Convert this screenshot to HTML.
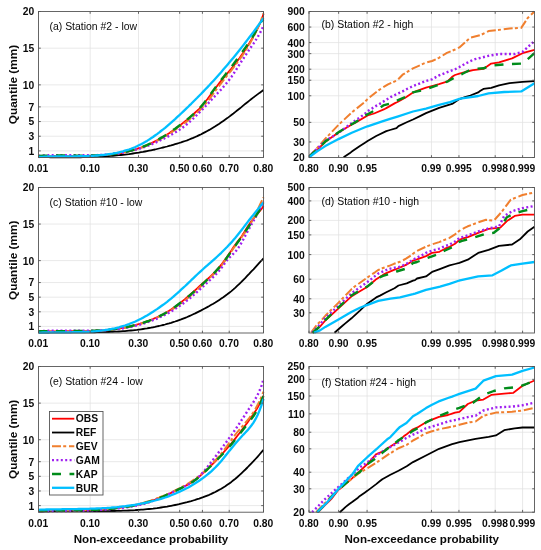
<!DOCTYPE html>
<html><head><meta charset="utf-8"><title>Quantile plots</title>
<style>html,body{margin:0;padding:0;background:#fff}svg{display:block}text{font-family:"Liberation Sans", Arial, sans-serif}</style></head><body>
<svg width="541" height="550" viewBox="0 0 541 550">
<rect width="541" height="550" fill="#fff"/>
<g>
<path d="M90.17 11.50V157.50M138.51 11.50V157.50M179.68 11.50V157.50M202.43 11.50V157.50M229.21 11.50V157.50M38.50 48.18H263.50M38.50 84.87H263.50M38.50 106.88H263.50M38.50 121.55H263.50M38.50 136.22H263.50M38.50 150.90H263.50" stroke="#e1e1e1" stroke-width="0.75" fill="none"/>
<clipPath id="c0"><rect x="38.50" y="10.00" width="226.50" height="149.00"/></clipPath>
<g clip-path="url(#c0)" fill="none" stroke-linejoin="round">
<path d="M38.5 156.8L40.5 156.6L42.5 156.5L44.5 156.4L46.5 156.3L48.5 156.2L50.6 156.1L52.6 156.1L54.6 156.0L56.6 156.0L58.6 156.0L60.6 156.0L62.6 156.0L64.6 156.0L66.6 156.0L68.6 156.0L70.6 156.0L72.7 156.0L74.7 156.0L76.7 156.0L78.7 156.0L80.7 156.0L82.7 156.0L84.7 156.0L86.7 155.9L88.7 155.9L90.7 155.9L92.7 155.8L94.8 155.7L96.8 155.6L98.8 155.5L100.8 155.4L102.8 155.3L104.8 155.1L106.8 154.9L108.8 154.7L110.8 154.5L112.8 154.3L114.8 154.0L116.8 153.7L118.9 153.4L120.9 153.0L122.9 152.6L124.9 152.2L126.9 151.7L128.9 151.2L130.9 150.7L132.9 150.1L134.9 149.5L136.9 148.9L138.9 148.2L141.0 147.5L143.0 146.8L145.0 146.0L147.0 145.1L149.0 144.3L151.0 143.4L153.0 142.4L155.0 141.4L157.0 140.4L159.0 139.3L161.0 138.2L163.1 137.0L165.1 135.8L167.1 134.5L169.1 133.2L171.1 131.8L173.1 130.5L175.1 129.0L177.1 127.5L179.1 126.0L181.1 124.5L183.1 122.9L185.2 121.2L187.2 119.6L189.2 117.9L191.2 116.1L193.2 114.3L195.2 112.5L197.2 110.7L199.2 108.8L201.2 106.7L203.2 104.4L205.2 101.8L207.3 99.2L209.3 96.4L211.3 93.7L213.3 91.0L215.3 88.3L217.3 85.7L219.3 83.1L221.3 80.6L223.3 78.2L225.3 75.8L227.3 73.4L229.3 71.0L231.4 68.6L233.4 66.1L235.4 63.5L237.4 60.9L239.4 58.2L241.4 55.3L243.4 52.4L245.4 49.4L247.4 46.2L249.4 43.0L251.4 39.6L253.5 36.1L255.5 32.5L257.5 28.7L259.5 24.6L261.5 19.9L263.5 14.0" stroke="#ff0000" stroke-width="1.8"/>
<path d="M38.5 157.1L40.5 157.1L42.5 157.1L44.5 157.2L46.5 157.2L48.5 157.2L50.6 157.3L52.6 157.3L54.6 157.3L56.6 157.3L58.6 157.3L60.6 157.4L62.6 157.4L64.6 157.4L66.6 157.4L68.6 157.4L70.6 157.4L72.7 157.4L74.7 157.4L76.7 157.3L78.7 157.3L80.7 157.3L82.7 157.2L84.7 157.2L86.7 157.2L88.7 157.1L90.7 157.0L92.7 157.0L94.8 156.9L96.8 156.8L98.8 156.7L100.8 156.6L102.8 156.5L104.8 156.4L106.8 156.2L108.8 156.1L110.8 155.9L112.8 155.8L114.8 155.6L116.8 155.4L118.9 155.2L120.9 155.0L122.9 154.8L124.9 154.6L126.9 154.3L128.9 154.1L130.9 153.8L132.9 153.5L134.9 153.2L136.9 152.9L138.9 152.6L141.0 152.2L143.0 151.9L145.0 151.5L147.0 151.1L149.0 150.7L151.0 150.3L153.0 149.9L155.0 149.5L157.0 149.0L159.0 148.5L161.0 148.0L163.1 147.5L165.1 147.0L167.1 146.5L169.1 145.9L171.1 145.4L173.1 144.8L175.1 144.2L177.1 143.6L179.1 143.0L181.1 142.4L183.1 141.7L185.2 141.0L187.2 140.3L189.2 139.5L191.2 138.7L193.2 137.9L195.2 137.0L197.2 136.1L199.2 135.1L201.2 134.2L203.2 133.1L205.2 132.1L207.3 131.0L209.3 129.9L211.3 128.7L213.3 127.5L215.3 126.3L217.3 125.0L219.3 123.7L221.3 122.3L223.3 120.9L225.3 119.5L227.3 118.1L229.3 116.6L231.4 115.0L233.4 113.5L235.4 111.9L237.4 110.3L239.4 108.7L241.4 107.1L243.4 105.4L245.4 103.8L247.4 102.2L249.4 100.6L251.4 99.0L253.5 97.4L255.5 95.9L257.5 94.4L259.5 92.9L261.5 91.5L263.5 90.1" stroke="#000000" stroke-width="1.8"/>
<path d="M38.5 156.5L40.5 156.4L42.5 156.3L44.5 156.3L46.5 156.2L48.5 156.1L50.6 156.1L52.6 156.0L54.6 156.0L56.6 156.0L58.6 156.0L60.6 155.9L62.6 155.9L64.6 155.9L66.6 155.9L68.6 155.9L70.6 155.9L72.7 155.9L74.7 155.9L76.7 155.9L78.7 155.9L80.7 155.9L82.7 155.9L84.7 155.9L86.7 155.8L88.7 155.8L90.7 155.7L92.7 155.7L94.8 155.6L96.8 155.5L98.8 155.4L100.8 155.3L102.8 155.1L104.8 155.0L106.8 154.8L108.8 154.6L110.8 154.4L112.8 154.1L114.8 153.9L116.8 153.6L118.9 153.3L120.9 152.9L122.9 152.6L124.9 152.2L126.9 151.8L128.9 151.3L130.9 150.8L132.9 150.3L134.9 149.8L136.9 149.2L138.9 148.6L141.0 147.9L143.0 147.2L145.0 146.4L147.0 145.6L149.0 144.8L151.0 143.9L153.0 143.0L155.0 142.0L157.0 140.9L159.0 139.9L161.0 138.7L163.1 137.6L165.1 136.4L167.1 135.1L169.1 133.9L171.1 132.6L173.1 131.2L175.1 129.9L177.1 128.5L179.1 127.0L181.1 125.6L183.1 124.1L185.2 122.6L187.2 121.1L189.2 119.5L191.2 117.9L193.2 116.3L195.2 114.5L197.2 112.7L199.2 110.8L201.2 108.7L203.2 106.5L205.2 104.1L207.3 101.6L209.3 99.1L211.3 96.4L213.3 93.7L215.3 91.0L217.3 88.3L219.3 85.7L221.3 83.1L223.3 80.5L225.3 77.9L227.3 75.4L229.3 72.8L231.4 70.3L233.4 67.7L235.4 65.0L237.4 62.4L239.4 59.6L241.4 56.8L243.4 53.9L245.4 50.8L247.4 47.7L249.4 44.3L251.4 40.7L253.5 36.9L255.5 32.9L257.5 28.5L259.5 23.9L261.5 18.8L263.5 13.3" stroke="#f07f2e" stroke-width="2.0" stroke-dasharray="9 2.2 3 2.8"/>
<path d="M38.5 155.7L40.5 155.6L42.5 155.5L44.5 155.5L46.5 155.4L48.5 155.3L50.6 155.3L52.6 155.3L54.6 155.2L56.6 155.2L58.6 155.2L60.6 155.2L62.6 155.2L64.6 155.2L66.6 155.2L68.6 155.3L70.6 155.3L72.7 155.3L74.7 155.3L76.7 155.3L78.7 155.3L80.7 155.3L82.7 155.3L84.7 155.3L86.7 155.3L88.7 155.3L90.7 155.3L92.7 155.2L94.8 155.2L96.8 155.1L98.8 155.0L100.8 154.9L102.8 154.8L104.8 154.7L106.8 154.5L108.8 154.4L110.8 154.2L112.8 154.0L114.8 153.7L116.8 153.5L118.9 153.2L120.9 152.9L122.9 152.6L124.9 152.2L126.9 151.8L128.9 151.4L130.9 150.9L132.9 150.5L134.9 149.9L136.9 149.4L138.9 148.8L141.0 148.2L143.0 147.5L145.0 146.9L147.0 146.1L149.0 145.4L151.0 144.6L153.0 143.7L155.0 142.9L157.0 141.9L159.0 141.0L161.0 140.0L163.1 139.0L165.1 138.0L167.1 137.0L169.1 135.9L171.1 134.8L173.1 133.7L175.1 132.6L177.1 131.4L179.1 130.1L181.1 128.7L183.1 127.2L185.2 125.7L187.2 124.0L189.2 122.3L191.2 120.5L193.2 118.6L195.2 116.7L197.2 114.7L199.2 112.7L201.2 110.7L203.2 108.6L205.2 106.5L207.3 104.3L209.3 102.2L211.3 100.0L213.3 97.9L215.3 95.7L217.3 93.5L219.3 91.4L221.3 89.3L223.3 87.0L225.3 84.7L227.3 82.3L229.3 79.7L231.4 76.9L233.4 73.9L235.4 70.9L237.4 67.8L239.4 64.6L241.4 61.5L243.4 58.5L245.4 55.5L247.4 52.5L249.4 49.5L251.4 46.5L253.5 43.6L255.5 40.5L257.5 37.3L259.5 33.9L261.5 30.1L263.5 25.8" stroke="#a020f0" stroke-width="2.4" stroke-dasharray="2 2.4"/>
<path d="M38.5 156.0L40.5 155.9L42.5 155.8L44.5 155.7L46.5 155.6L48.5 155.6L50.6 155.5L52.6 155.5L54.6 155.5L56.6 155.5L58.6 155.4L60.6 155.4L62.6 155.5L64.6 155.5L66.6 155.5L68.6 155.5L70.6 155.5L72.7 155.5L74.7 155.5L76.7 155.6L78.7 155.6L80.7 155.6L82.7 155.6L84.7 155.6L86.7 155.5L88.7 155.5L90.7 155.5L92.7 155.4L94.8 155.4L96.8 155.3L98.8 155.2L100.8 155.1L102.8 155.0L104.8 154.8L106.8 154.6L108.8 154.4L110.8 154.2L112.8 154.0L114.8 153.7L116.8 153.4L118.9 153.1L120.9 152.8L122.9 152.4L124.9 152.0L126.9 151.5L128.9 151.1L130.9 150.6L132.9 150.0L134.9 149.4L136.9 148.8L138.9 148.1L141.0 147.4L143.0 146.7L145.0 145.9L147.0 145.1L149.0 144.2L151.0 143.3L153.0 142.3L155.0 141.3L157.0 140.2L159.0 139.1L161.0 137.9L163.1 136.7L165.1 135.5L167.1 134.2L169.1 132.9L171.1 131.5L173.1 130.1L175.1 128.7L177.1 127.2L179.1 125.7L181.1 124.2L183.1 122.7L185.2 121.1L187.2 119.5L189.2 117.8L191.2 116.1L193.2 114.4L195.2 112.6L197.2 110.6L199.2 108.6L201.2 106.4L203.2 104.0L205.2 101.5L207.3 98.8L209.3 96.1L211.3 93.3L213.3 90.4L215.3 87.6L217.3 84.9L219.3 82.3L221.3 79.7L223.3 77.2L225.3 74.7L227.3 72.1L229.3 69.6L231.4 66.9L233.4 64.2L235.4 61.5L237.4 58.7L239.4 55.9L241.4 53.1L243.4 50.4L245.4 47.6L247.4 44.8L249.4 41.8L251.4 38.7L253.5 35.4L255.5 31.9L257.5 28.1L259.5 24.4L261.5 21.4L263.5 19.7" stroke="#008c1a" stroke-width="2.4" stroke-dasharray="9 8.5"/>
<path d="M38.5 157.0L40.5 156.9L42.5 156.8L44.5 156.7L46.5 156.6L48.5 156.5L50.6 156.4L52.6 156.4L54.6 156.4L56.6 156.3L58.6 156.3L60.6 156.3L62.6 156.3L64.6 156.3L66.6 156.3L68.6 156.3L70.6 156.3L72.7 156.3L74.7 156.3L76.7 156.3L78.7 156.2L80.7 156.2L82.7 156.2L84.7 156.1L86.7 156.1L88.7 156.0L90.7 155.9L92.7 155.8L94.8 155.7L96.8 155.5L98.8 155.4L100.8 155.2L102.8 155.0L104.8 154.8L106.8 154.5L108.8 154.2L110.8 153.9L112.8 153.6L114.8 153.2L116.8 152.8L118.9 152.3L120.9 151.8L122.9 151.3L124.9 150.7L126.9 150.1L128.9 149.5L130.9 148.8L132.9 148.0L134.9 147.2L136.9 146.3L138.9 145.3L141.0 144.3L143.0 143.2L145.0 142.1L147.0 140.9L149.0 139.6L151.0 138.3L153.0 137.0L155.0 135.5L157.0 134.1L159.0 132.6L161.0 131.0L163.1 129.4L165.1 127.8L167.1 126.1L169.1 124.4L171.1 122.7L173.1 120.9L175.1 119.1L177.1 117.2L179.1 115.4L181.1 113.5L183.1 111.6L185.2 109.6L187.2 107.7L189.2 105.7L191.2 103.8L193.2 101.8L195.2 99.8L197.2 97.8L199.2 95.7L201.2 93.7L203.2 91.6L205.2 89.5L207.3 87.4L209.3 85.3L211.3 83.1L213.3 80.9L215.3 78.7L217.3 76.5L219.3 74.2L221.3 72.0L223.3 69.6L225.3 67.3L227.3 64.9L229.3 62.6L231.4 60.1L233.4 57.7L235.4 55.2L237.4 52.7L239.4 50.2L241.4 47.6L243.4 45.1L245.4 42.5L247.4 39.9L249.4 37.2L251.4 34.6L253.5 31.9L255.5 29.2L257.5 26.5L259.5 23.7L261.5 21.0L263.5 18.2" stroke="#00bfff" stroke-width="2.3"/>
</g>
<rect x="38.50" y="11.50" width="225.00" height="146.00" fill="none" stroke="#555" stroke-width="0.9"/>
<path d="M38.50 157.50v-2.3M38.50 11.50v2.3M90.17 157.50v-2.3M90.17 11.50v2.3M138.51 157.50v-2.3M138.51 11.50v2.3M179.68 157.50v-2.3M179.68 11.50v2.3M202.43 157.50v-2.3M202.43 11.50v2.3M229.21 157.50v-2.3M229.21 11.50v2.3M263.50 157.50v-2.3M263.50 11.50v2.3M38.50 11.50h2.3M263.50 11.50h-2.3M38.50 48.18h2.3M263.50 48.18h-2.3M38.50 84.87h2.3M263.50 84.87h-2.3M38.50 106.88h2.3M263.50 106.88h-2.3M38.50 121.55h2.3M263.50 121.55h-2.3M38.50 136.22h2.3M263.50 136.22h-2.3M38.50 150.90h2.3M263.50 150.90h-2.3" stroke="#555" stroke-width="0.9" fill="none"/>
<text x="38.30" y="171.90" font-size="10.3" font-weight="bold" text-anchor="middle" fill="#0a0a0a">0.01</text>
<text x="89.97" y="171.90" font-size="10.3" font-weight="bold" text-anchor="middle" fill="#0a0a0a">0.10</text>
<text x="138.31" y="171.90" font-size="10.3" font-weight="bold" text-anchor="middle" fill="#0a0a0a">0.30</text>
<text x="179.48" y="171.90" font-size="10.3" font-weight="bold" text-anchor="middle" fill="#0a0a0a">0.50</text>
<text x="202.23" y="171.90" font-size="10.3" font-weight="bold" text-anchor="middle" fill="#0a0a0a">0.60</text>
<text x="229.01" y="171.90" font-size="10.3" font-weight="bold" text-anchor="middle" fill="#0a0a0a">0.70</text>
<text x="263.30" y="171.90" font-size="10.3" font-weight="bold" text-anchor="middle" fill="#0a0a0a">0.80</text>
<text x="34.20" y="15.40" font-size="10.3" font-weight="bold" text-anchor="end" fill="#0a0a0a">20</text>
<text x="34.20" y="52.08" font-size="10.3" font-weight="bold" text-anchor="end" fill="#0a0a0a">15</text>
<text x="34.20" y="88.77" font-size="10.3" font-weight="bold" text-anchor="end" fill="#0a0a0a">10</text>
<text x="34.20" y="110.78" font-size="10.3" font-weight="bold" text-anchor="end" fill="#0a0a0a">7</text>
<text x="34.20" y="125.45" font-size="10.3" font-weight="bold" text-anchor="end" fill="#0a0a0a">5</text>
<text x="34.20" y="140.12" font-size="10.3" font-weight="bold" text-anchor="end" fill="#0a0a0a">3</text>
<text x="34.20" y="154.80" font-size="10.3" font-weight="bold" text-anchor="end" fill="#0a0a0a">1</text>
<text x="49.50" y="29.90" font-size="10.45" fill="#0a0a0a">(a) Station #2 - low</text>
<text transform="translate(17.40 84.50) rotate(-90)" font-size="11.8" font-weight="bold" text-anchor="middle" fill="#0a0a0a">Quantile (mm)</text>
</g>
<g>
<path d="M338.64 11.50V157.50M367.08 11.50V157.50M431.46 11.50V157.50M458.94 11.50V157.50M495.19 11.50V157.50M522.59 11.50V157.50M309.00 27.05H534.50M309.00 42.60H534.50M309.00 53.64H534.50M309.00 69.19H534.50M309.00 80.22H534.50M309.00 95.77H534.50M309.00 122.36H534.50M309.00 141.95H534.50" stroke="#e1e1e1" stroke-width="0.75" fill="none"/>
<clipPath id="c1"><rect x="309.00" y="10.00" width="227.00" height="149.00"/></clipPath>
<g clip-path="url(#c1)" fill="none" stroke-linejoin="round">
<path d="M309.0 156.6L317.2 149.8L325.0 142.1L325.3 141.8L338.5 132.5L351.8 124.4L355.0 122.9L367.6 115.5L374.1 113.5L385.0 108.8L386.3 108.1L395.0 103.1L397.5 102.0L406.0 97.2L406.7 96.8L413.0 92.6L417.0 90.8L426.0 87.7L432.0 86.0L432.1 86.0L439.0 84.1L446.9 81.6L448.0 80.9L452.1 76.8L455.0 75.0L459.4 73.7L465.0 72.0L473.0 70.2L483.4 68.9L491.2 63.6L499.0 62.3L512.1 58.4L522.5 53.2L534.5 49.8" stroke="#ff0000" stroke-width="1.8"/>
<path d="M343.6 157.3L350.0 153.0L351.8 151.6L359.9 145.9L365.0 142.7L367.6 141.0L376.2 136.0L386.3 131.1L390.0 130.0L396.5 128.2L398.5 126.1L406.7 122.3L413.0 119.5L420.0 116.1L426.0 113.1L439.1 107.8L452.0 103.9L452.1 103.9L459.4 99.1L465.0 97.2L470.4 95.5L478.2 92.4L480.0 91.1L483.4 88.9L491.2 87.9L499.0 85.3L509.5 83.2L522.5 81.9L534.5 81.1" stroke="#000000" stroke-width="1.8"/>
<path d="M309.0 156.6L317.2 147.9L320.0 144.9L325.3 138.7L338.5 124.9L351.8 112.4L355.0 109.8L365.0 101.8L367.5 99.1L367.6 99.0L377.0 91.4L382.3 87.8L388.0 84.4L397.0 80.4L397.5 80.1L402.6 74.7L406.0 72.7L413.0 68.3L421.0 64.8L426.0 62.6L432.0 61.0L432.1 61.0L439.0 57.8L446.9 52.9L455.0 49.5L459.4 47.4L470.0 37.9L470.4 37.6L480.8 35.0L488.6 31.1L495.9 30.3L509.5 28.5L521.2 27.9L527.7 18.0L534.5 11.5" stroke="#f07f2e" stroke-width="2.0" stroke-dasharray="9 2.2 3 2.8"/>
<path d="M309.0 156.6L325.0 141.1L325.3 140.8L338.5 133.0L351.8 123.0L355.0 120.8L365.0 113.8L367.5 111.2L367.6 111.1L377.0 105.4L378.2 104.8L388.0 98.7L390.4 97.2L400.0 92.6L402.6 91.4L406.0 89.4L413.0 86.1L417.0 84.6L426.0 80.9L432.0 79.3L439.0 75.4L439.1 75.4L448.0 71.9L455.0 69.3L459.4 67.0L465.0 63.8L473.0 59.9L475.0 59.2L488.6 55.8L499.0 54.0L514.7 54.0L522.5 51.9L534.5 41.0" stroke="#a020f0" stroke-width="2.4" stroke-dasharray="2 2.4"/>
<path d="M309.0 156.6L317.2 149.6L325.0 141.8L325.3 141.5L338.5 132.3L351.8 124.2L355.0 122.4L367.6 114.2L380.2 107.5L383.3 105.4L390.4 103.5L397.5 100.4L406.7 96.4L413.0 92.3L415.0 91.8L426.0 89.4L432.0 87.2L439.1 84.6L448.0 81.3L452.1 78.9L458.0 75.8L462.5 73.8L468.0 71.0L473.0 68.9L483.4 68.3L491.2 65.5L504.2 64.4L522.5 63.6L534.5 53.2" stroke="#008c1a" stroke-width="2.4" stroke-dasharray="9 8.5"/>
<path d="M309.0 157.2L317.2 151.2L325.3 146.1L338.5 139.1L351.8 132.7L365.0 127.3L367.6 126.3L382.3 121.4L390.0 118.9L397.5 116.6L410.0 112.5L413.0 111.5L426.0 108.7L439.1 104.8L450.0 102.1L459.4 98.9L462.0 98.3L478.2 96.0L488.6 93.4L504.2 92.0L521.2 91.4L534.5 83.2" stroke="#00bfff" stroke-width="2.3"/>
</g>
<rect x="309.00" y="11.50" width="225.50" height="146.00" fill="none" stroke="#555" stroke-width="0.9"/>
<path d="M309.00 157.50v-2.3M309.00 11.50v2.3M338.64 157.50v-2.3M338.64 11.50v2.3M367.08 157.50v-2.3M367.08 11.50v2.3M431.46 157.50v-2.3M431.46 11.50v2.3M458.94 157.50v-2.3M458.94 11.50v2.3M495.19 157.50v-2.3M495.19 11.50v2.3M522.59 157.50v-2.3M522.59 11.50v2.3M309.00 11.50h2.3M534.50 11.50h-2.3M309.00 27.05h2.3M534.50 27.05h-2.3M309.00 42.60h2.3M534.50 42.60h-2.3M309.00 53.64h2.3M534.50 53.64h-2.3M309.00 69.19h2.3M534.50 69.19h-2.3M309.00 80.22h2.3M534.50 80.22h-2.3M309.00 95.77h2.3M534.50 95.77h-2.3M309.00 122.36h2.3M534.50 122.36h-2.3M309.00 141.95h2.3M534.50 141.95h-2.3M309.00 157.50h2.3M534.50 157.50h-2.3" stroke="#555" stroke-width="0.9" fill="none"/>
<text x="308.80" y="171.90" font-size="10.3" font-weight="bold" text-anchor="middle" fill="#0a0a0a">0.80</text>
<text x="338.44" y="171.90" font-size="10.3" font-weight="bold" text-anchor="middle" fill="#0a0a0a">0.90</text>
<text x="366.88" y="171.90" font-size="10.3" font-weight="bold" text-anchor="middle" fill="#0a0a0a">0.95</text>
<text x="431.26" y="171.90" font-size="10.3" font-weight="bold" text-anchor="middle" fill="#0a0a0a">0.99</text>
<text x="458.74" y="171.90" font-size="10.3" font-weight="bold" text-anchor="middle" fill="#0a0a0a">0.995</text>
<text x="494.99" y="171.90" font-size="10.3" font-weight="bold" text-anchor="middle" fill="#0a0a0a">0.998</text>
<text x="522.39" y="171.90" font-size="10.3" font-weight="bold" text-anchor="middle" fill="#0a0a0a">0.999</text>
<text x="304.70" y="15.40" font-size="10.3" font-weight="bold" text-anchor="end" fill="#0a0a0a">900</text>
<text x="304.70" y="30.95" font-size="10.3" font-weight="bold" text-anchor="end" fill="#0a0a0a">600</text>
<text x="304.70" y="46.50" font-size="10.3" font-weight="bold" text-anchor="end" fill="#0a0a0a">400</text>
<text x="304.70" y="57.54" font-size="10.3" font-weight="bold" text-anchor="end" fill="#0a0a0a">300</text>
<text x="304.70" y="73.09" font-size="10.3" font-weight="bold" text-anchor="end" fill="#0a0a0a">200</text>
<text x="304.70" y="84.12" font-size="10.3" font-weight="bold" text-anchor="end" fill="#0a0a0a">150</text>
<text x="304.70" y="99.67" font-size="10.3" font-weight="bold" text-anchor="end" fill="#0a0a0a">100</text>
<text x="304.70" y="126.26" font-size="10.3" font-weight="bold" text-anchor="end" fill="#0a0a0a">50</text>
<text x="304.70" y="145.85" font-size="10.3" font-weight="bold" text-anchor="end" fill="#0a0a0a">30</text>
<text x="304.70" y="161.40" font-size="10.3" font-weight="bold" text-anchor="end" fill="#0a0a0a">20</text>
<text x="321.60" y="27.90" font-size="10.45" fill="#0a0a0a">(b) Station #2 - high</text>
</g>
<g>
<path d="M90.17 187.50V333.00M138.51 187.50V333.00M179.68 187.50V333.00M202.43 187.50V333.00M229.21 187.50V333.00M38.50 224.06H263.50M38.50 260.62H263.50M38.50 282.55H263.50M38.50 297.17H263.50M38.50 311.80H263.50M38.50 326.42H263.50" stroke="#e1e1e1" stroke-width="0.75" fill="none"/>
<clipPath id="c2"><rect x="38.50" y="186.00" width="226.50" height="148.50"/></clipPath>
<g clip-path="url(#c2)" fill="none" stroke-linejoin="round">
<path d="M38.5 331.7L40.5 331.6L42.5 331.6L44.5 331.5L46.5 331.4L48.5 331.4L50.6 331.3L52.6 331.3L54.6 331.3L56.6 331.3L58.6 331.3L60.6 331.2L62.6 331.2L64.6 331.2L66.6 331.2L68.6 331.2L70.6 331.2L72.7 331.2L74.7 331.2L76.7 331.2L78.7 331.2L80.7 331.2L82.7 331.1L84.7 331.1L86.7 331.1L88.7 331.0L90.7 331.0L92.7 330.9L94.8 330.8L96.8 330.7L98.8 330.6L100.8 330.5L102.8 330.3L104.8 330.2L106.8 330.0L108.8 329.8L110.8 329.6L112.8 329.4L114.8 329.1L116.8 328.8L118.9 328.5L120.9 328.2L122.9 327.9L124.9 327.5L126.9 327.1L128.9 326.6L130.9 326.2L132.9 325.7L134.9 325.2L136.9 324.6L138.9 324.0L141.0 323.4L143.0 322.8L145.0 322.1L147.0 321.4L149.0 320.6L151.0 319.8L153.0 319.0L155.0 318.1L157.0 317.2L159.0 316.2L161.0 315.2L163.1 314.2L165.1 313.1L167.1 311.9L169.1 310.7L171.1 309.4L173.1 308.1L175.1 306.7L177.1 305.3L179.1 303.8L181.1 302.2L183.1 300.6L185.2 299.0L187.2 297.2L189.2 295.5L191.2 293.7L193.2 291.9L195.2 290.1L197.2 288.3L199.2 286.5L201.2 284.7L203.2 282.9L205.2 281.1L207.3 279.3L209.3 277.5L211.3 275.6L213.3 273.7L215.3 271.6L217.3 269.4L219.3 267.1L221.3 264.7L223.3 262.1L225.3 259.4L227.3 256.5L229.3 253.5L231.4 250.4L233.4 247.3L235.4 244.5L237.4 241.9L239.4 239.4L241.4 236.7L243.4 233.6L245.4 230.3L247.4 227.0L249.4 223.9L251.4 221.1L253.5 218.6L255.5 216.2L257.5 213.9L259.5 211.5L261.5 208.9L263.5 205.9" stroke="#ff0000" stroke-width="1.8"/>
<path d="M38.5 332.8L40.5 332.7L42.5 332.6L44.5 332.6L46.5 332.5L48.5 332.5L50.6 332.4L52.6 332.4L54.6 332.4L56.6 332.3L58.6 332.3L60.6 332.3L62.6 332.3L64.6 332.3L66.6 332.3L68.6 332.3L70.6 332.3L72.7 332.3L74.7 332.3L76.7 332.3L78.7 332.3L80.7 332.3L82.7 332.3L84.7 332.3L86.7 332.3L88.7 332.3L90.7 332.3L92.7 332.3L94.8 332.3L96.8 332.2L98.8 332.2L100.8 332.2L102.8 332.1L104.8 332.1L106.8 332.0L108.8 332.0L110.8 331.9L112.8 331.8L114.8 331.7L116.8 331.6L118.9 331.5L120.9 331.4L122.9 331.2L124.9 331.1L126.9 330.9L128.9 330.7L130.9 330.5L132.9 330.3L134.9 330.1L136.9 329.9L138.9 329.6L141.0 329.3L143.0 329.0L145.0 328.7L147.0 328.4L149.0 328.0L151.0 327.7L153.0 327.3L155.0 326.9L157.0 326.4L159.0 326.0L161.0 325.5L163.1 325.0L165.1 324.5L167.1 323.9L169.1 323.4L171.1 322.8L173.1 322.1L175.1 321.5L177.1 320.8L179.1 320.1L181.1 319.4L183.1 318.6L185.2 317.8L187.2 317.0L189.2 316.1L191.2 315.2L193.2 314.3L195.2 313.4L197.2 312.4L199.2 311.4L201.2 310.4L203.2 309.3L205.2 308.2L207.3 307.1L209.3 306.0L211.3 304.8L213.3 303.7L215.3 302.5L217.3 301.2L219.3 299.9L221.3 298.6L223.3 297.3L225.3 295.8L227.3 294.3L229.3 292.7L231.4 291.1L233.4 289.4L235.4 287.6L237.4 285.7L239.4 283.8L241.4 281.9L243.4 279.8L245.4 277.8L247.4 275.7L249.4 273.6L251.4 271.4L253.5 269.3L255.5 267.1L257.5 264.9L259.5 262.7L261.5 260.5L263.5 258.3" stroke="#000000" stroke-width="1.8"/>
<path d="M38.5 331.9L40.5 331.8L42.5 331.7L44.5 331.7L46.5 331.6L48.5 331.6L50.6 331.5L52.6 331.5L54.6 331.4L56.6 331.4L58.6 331.4L60.6 331.4L62.6 331.4L64.6 331.4L66.6 331.4L68.6 331.4L70.6 331.4L72.7 331.4L74.7 331.4L76.7 331.3L78.7 331.3L80.7 331.3L82.7 331.3L84.7 331.2L86.7 331.2L88.7 331.2L90.7 331.1L92.7 331.0L94.8 330.9L96.8 330.8L98.8 330.7L100.8 330.6L102.8 330.5L104.8 330.3L106.8 330.2L108.8 330.0L110.8 329.8L112.8 329.5L114.8 329.3L116.8 329.0L118.9 328.7L120.9 328.4L122.9 328.1L124.9 327.7L126.9 327.3L128.9 326.9L130.9 326.4L132.9 326.0L134.9 325.5L136.9 324.9L138.9 324.3L141.0 323.7L143.0 323.1L145.0 322.4L147.0 321.7L149.0 321.0L151.0 320.2L153.0 319.4L155.0 318.5L157.0 317.6L159.0 316.7L161.0 315.7L163.1 314.7L165.1 313.6L167.1 312.5L169.1 311.3L171.1 310.1L173.1 308.8L175.1 307.5L177.1 306.2L179.1 304.7L181.1 303.3L183.1 301.8L185.2 300.2L187.2 298.6L189.2 296.9L191.2 295.2L193.2 293.4L195.2 291.6L197.2 289.7L199.2 287.8L201.2 285.9L203.2 284.0L205.2 282.0L207.3 280.1L209.3 278.2L211.3 276.3L213.3 274.4L215.3 272.5L217.3 270.5L219.3 268.3L221.3 265.9L223.3 263.2L225.3 260.4L227.3 257.5L229.3 254.5L231.4 251.4L233.4 248.4L235.4 245.6L237.4 242.8L239.4 240.1L241.4 237.4L243.4 234.7L245.4 231.9L247.4 228.9L249.4 225.7L251.4 222.3L253.5 218.6L255.5 214.5L257.5 210.1L259.5 205.7L261.5 201.4L263.5 197.4" stroke="#f07f2e" stroke-width="2.0" stroke-dasharray="9 2.2 3 2.8"/>
<path d="M38.5 331.2L40.5 331.1L42.5 331.0L44.5 331.0L46.5 330.9L48.5 330.8L50.6 330.8L52.6 330.8L54.6 330.7L56.6 330.7L58.6 330.7L60.6 330.7L62.6 330.7L64.6 330.7L66.6 330.7L68.6 330.7L70.6 330.7L72.7 330.8L74.7 330.8L76.7 330.8L78.7 330.8L80.7 330.8L82.7 330.8L84.7 330.8L86.7 330.8L88.7 330.7L90.7 330.7L92.7 330.7L94.8 330.6L96.8 330.6L98.8 330.5L100.8 330.4L102.8 330.3L104.8 330.2L106.8 330.0L108.8 329.9L110.8 329.7L112.8 329.5L114.8 329.3L116.8 329.1L118.9 328.9L120.9 328.6L122.9 328.3L124.9 328.0L126.9 327.6L128.9 327.2L130.9 326.8L132.9 326.4L134.9 325.9L136.9 325.4L138.9 324.9L141.0 324.3L143.0 323.7L145.0 323.1L147.0 322.4L149.0 321.7L151.0 321.0L153.0 320.2L155.0 319.4L157.0 318.6L159.0 317.7L161.0 316.7L163.1 315.7L165.1 314.7L167.1 313.7L169.1 312.6L171.1 311.4L173.1 310.2L175.1 308.9L177.1 307.6L179.1 306.3L181.1 304.9L183.1 303.5L185.2 302.0L187.2 300.4L189.2 298.8L191.2 297.2L193.2 295.4L195.2 293.7L197.2 291.9L199.2 290.1L201.2 288.2L203.2 286.4L205.2 284.5L207.3 282.6L209.3 280.7L211.3 278.8L213.3 276.9L215.3 274.9L217.3 272.9L219.3 270.6L221.3 268.1L223.3 265.3L225.3 262.6L227.3 259.9L229.3 257.6L231.4 255.6L233.4 253.7L235.4 251.7L237.4 249.2L239.4 246.2L241.4 242.9L243.4 239.2L245.4 235.5L247.4 231.7L249.4 228.1L251.4 224.5L253.5 220.9L255.5 217.3L257.5 213.6L259.5 209.7L261.5 205.7L263.5 201.4" stroke="#a020f0" stroke-width="2.4" stroke-dasharray="2 2.4"/>
<path d="M38.5 331.4L40.5 331.3L42.5 331.3L44.5 331.2L46.5 331.2L48.5 331.1L50.6 331.1L52.6 331.1L54.6 331.1L56.6 331.1L58.6 331.1L60.6 331.1L62.6 331.1L64.6 331.1L66.6 331.1L68.6 331.1L70.6 331.1L72.7 331.1L74.7 331.0L76.7 331.0L78.7 331.0L80.7 331.0L82.7 331.0L84.7 330.9L86.7 330.9L88.7 330.9L90.7 330.8L92.7 330.7L94.8 330.6L96.8 330.5L98.8 330.4L100.8 330.3L102.8 330.2L104.8 330.0L106.8 329.8L108.8 329.7L110.8 329.4L112.8 329.2L114.8 329.0L116.8 328.7L118.9 328.4L120.9 328.1L122.9 327.8L124.9 327.4L126.9 327.0L128.9 326.6L130.9 326.2L132.9 325.7L134.9 325.2L136.9 324.7L138.9 324.1L141.0 323.5L143.0 322.9L145.0 322.2L147.0 321.5L149.0 320.8L151.0 320.0L153.0 319.2L155.0 318.3L157.0 317.4L159.0 316.5L161.0 315.4L163.1 314.4L165.1 313.3L167.1 312.1L169.1 310.8L171.1 309.6L173.1 308.2L175.1 306.8L177.1 305.3L179.1 303.8L181.1 302.3L183.1 300.7L185.2 299.1L187.2 297.4L189.2 295.8L191.2 294.1L193.2 292.4L195.2 290.6L197.2 288.9L199.2 287.1L201.2 285.3L203.2 283.5L205.2 281.6L207.3 279.7L209.3 277.8L211.3 275.8L213.3 273.8L215.3 271.8L217.3 269.6L219.3 267.4L221.3 264.9L223.3 262.4L225.3 259.7L227.3 257.0L229.3 254.2L231.4 251.3L233.4 248.4L235.4 245.6L237.4 242.8L239.4 240.0L241.4 237.1L243.4 234.3L245.4 231.4L247.4 228.5L249.4 225.5L251.4 222.5L253.5 219.5L255.5 216.4L257.5 213.3L259.5 210.3L261.5 207.2L263.5 204.0" stroke="#008c1a" stroke-width="2.4" stroke-dasharray="9 8.5"/>
<path d="M38.5 332.7L40.5 332.6L42.5 332.5L44.5 332.5L46.5 332.4L48.5 332.4L50.6 332.4L52.6 332.3L54.6 332.3L56.6 332.3L58.6 332.3L60.6 332.3L62.6 332.3L64.6 332.3L66.6 332.3L68.6 332.3L70.6 332.3L72.7 332.2L74.7 332.2L76.7 332.2L78.7 332.2L80.7 332.1L82.7 332.0L84.7 332.0L86.7 331.9L88.7 331.8L90.7 331.6L92.7 331.5L94.8 331.3L96.8 331.1L98.8 330.9L100.8 330.7L102.8 330.4L104.8 330.1L106.8 329.8L108.8 329.5L110.8 329.1L112.8 328.7L114.8 328.3L116.8 327.8L118.9 327.3L120.9 326.7L122.9 326.1L124.9 325.5L126.9 324.8L128.9 324.1L130.9 323.3L132.9 322.5L134.9 321.7L136.9 320.7L138.9 319.8L141.0 318.8L143.0 317.7L145.0 316.6L147.0 315.5L149.0 314.3L151.0 313.0L153.0 311.8L155.0 310.4L157.0 309.1L159.0 307.7L161.0 306.3L163.1 304.8L165.1 303.3L167.1 301.8L169.1 300.2L171.1 298.6L173.1 296.9L175.1 295.1L177.1 293.4L179.1 291.6L181.1 289.7L183.1 287.9L185.2 286.0L187.2 284.1L189.2 282.2L191.2 280.2L193.2 278.3L195.2 276.4L197.2 274.5L199.2 272.7L201.2 270.8L203.2 269.0L205.2 267.2L207.3 265.4L209.3 263.6L211.3 261.9L213.3 260.1L215.3 258.3L217.3 256.5L219.3 254.7L221.3 252.8L223.3 250.8L225.3 248.8L227.3 246.8L229.3 244.6L231.4 242.4L233.4 240.0L235.4 237.7L237.4 235.2L239.4 232.7L241.4 230.2L243.4 227.6L245.4 225.0L247.4 222.4L249.4 219.8L251.4 217.2L253.5 214.7L255.5 212.1L257.5 209.6L259.5 207.2L261.5 204.8L263.5 202.5" stroke="#00bfff" stroke-width="2.3"/>
</g>
<rect x="38.50" y="187.50" width="225.00" height="145.50" fill="none" stroke="#555" stroke-width="0.9"/>
<path d="M38.50 333.00v-2.3M38.50 187.50v2.3M90.17 333.00v-2.3M90.17 187.50v2.3M138.51 333.00v-2.3M138.51 187.50v2.3M179.68 333.00v-2.3M179.68 187.50v2.3M202.43 333.00v-2.3M202.43 187.50v2.3M229.21 333.00v-2.3M229.21 187.50v2.3M263.50 333.00v-2.3M263.50 187.50v2.3M38.50 187.50h2.3M263.50 187.50h-2.3M38.50 224.06h2.3M263.50 224.06h-2.3M38.50 260.62h2.3M263.50 260.62h-2.3M38.50 282.55h2.3M263.50 282.55h-2.3M38.50 297.17h2.3M263.50 297.17h-2.3M38.50 311.80h2.3M263.50 311.80h-2.3M38.50 326.42h2.3M263.50 326.42h-2.3" stroke="#555" stroke-width="0.9" fill="none"/>
<text x="38.30" y="347.40" font-size="10.3" font-weight="bold" text-anchor="middle" fill="#0a0a0a">0.01</text>
<text x="89.97" y="347.40" font-size="10.3" font-weight="bold" text-anchor="middle" fill="#0a0a0a">0.10</text>
<text x="138.31" y="347.40" font-size="10.3" font-weight="bold" text-anchor="middle" fill="#0a0a0a">0.30</text>
<text x="179.48" y="347.40" font-size="10.3" font-weight="bold" text-anchor="middle" fill="#0a0a0a">0.50</text>
<text x="202.23" y="347.40" font-size="10.3" font-weight="bold" text-anchor="middle" fill="#0a0a0a">0.60</text>
<text x="229.01" y="347.40" font-size="10.3" font-weight="bold" text-anchor="middle" fill="#0a0a0a">0.70</text>
<text x="263.30" y="347.40" font-size="10.3" font-weight="bold" text-anchor="middle" fill="#0a0a0a">0.80</text>
<text x="34.20" y="191.40" font-size="10.3" font-weight="bold" text-anchor="end" fill="#0a0a0a">20</text>
<text x="34.20" y="227.96" font-size="10.3" font-weight="bold" text-anchor="end" fill="#0a0a0a">15</text>
<text x="34.20" y="264.52" font-size="10.3" font-weight="bold" text-anchor="end" fill="#0a0a0a">10</text>
<text x="34.20" y="286.45" font-size="10.3" font-weight="bold" text-anchor="end" fill="#0a0a0a">7</text>
<text x="34.20" y="301.07" font-size="10.3" font-weight="bold" text-anchor="end" fill="#0a0a0a">5</text>
<text x="34.20" y="315.70" font-size="10.3" font-weight="bold" text-anchor="end" fill="#0a0a0a">3</text>
<text x="34.20" y="330.32" font-size="10.3" font-weight="bold" text-anchor="end" fill="#0a0a0a">1</text>
<text x="49.60" y="205.50" font-size="10.45" fill="#0a0a0a">(c) Station #10 - low</text>
<text transform="translate(17.40 260.25) rotate(-90)" font-size="11.8" font-weight="bold" text-anchor="middle" fill="#0a0a0a">Quantile (mm)</text>
</g>
<g>
<path d="M338.64 187.50V333.00M367.08 187.50V333.00M431.46 187.50V333.00M458.94 187.50V333.00M495.19 187.50V333.00M522.59 187.50V333.00M309.00 200.90H534.50M309.00 220.40H534.50M309.00 234.90H534.50M309.00 254.60H534.50M309.00 279.20H534.50M309.00 298.80H534.50M309.00 312.80H534.50" stroke="#e1e1e1" stroke-width="0.75" fill="none"/>
<clipPath id="c3"><rect x="309.00" y="186.00" width="227.00" height="148.50"/></clipPath>
<g clip-path="url(#c3)" fill="none" stroke-linejoin="round">
<path d="M313.1 332.6L320.0 326.6L325.3 320.5L338.5 308.4L351.8 296.2L355.0 294.2L359.9 291.3L367.5 286.7L367.6 286.6L375.0 280.3L376.2 279.2L383.0 274.9L386.3 273.1L394.0 269.8L396.5 269.0L406.0 264.9L406.7 264.6L411.5 261.7L413.0 260.6L417.0 259.4L426.0 256.1L432.0 252.9L432.1 252.9L439.1 251.9L439.4 251.7L445.0 248.7L449.5 246.8L450.5 246.3L455.0 243.7L459.4 239.9L462.0 238.7L467.8 237.2L478.2 232.8L488.6 228.9L500.3 227.6L506.9 221.1L514.7 215.9L522.5 214.6L534.5 214.6" stroke="#ff0000" stroke-width="1.8"/>
<path d="M334.5 332.7L341.6 326.5L345.0 323.6L351.8 318.0L352.0 317.8L359.9 310.6L365.0 305.7L367.6 303.4L376.2 297.4L380.0 295.6L386.3 292.3L394.5 288.2L398.5 285.5L406.7 283.4L413.0 280.6L415.0 280.1L417.0 278.5L426.0 276.4L432.0 272.0L432.1 271.9L439.1 269.3L449.5 265.4L455.0 264.0L459.4 262.8L467.8 259.7L478.2 252.9L488.6 249.8L499.0 245.9L512.1 244.5L519.9 239.3L527.7 231.5L534.5 226.8" stroke="#000000" stroke-width="1.8"/>
<path d="M311.1 332.6L317.2 324.4L320.0 321.8L325.3 315.8L338.5 302.6L351.8 288.9L355.0 286.3L367.5 277.4L367.6 277.3L375.0 272.3L378.2 270.0L383.0 268.0L390.4 265.4L394.0 263.8L400.0 261.8L406.0 258.7L411.5 255.0L413.0 253.7L417.0 250.9L426.0 246.7L432.0 244.4L439.1 242.1L448.0 238.5L449.5 237.9L455.0 234.4L459.4 230.8L465.0 227.6L467.8 226.3L478.2 222.4L486.0 219.8L493.8 220.6L501.6 212.0L510.8 199.7L522.5 195.0L534.5 192.4" stroke="#f07f2e" stroke-width="2.0" stroke-dasharray="9 2.2 3 2.8"/>
<path d="M312.1 332.6L320.0 324.3L325.3 317.9L338.5 305.8L351.8 293.0L355.0 290.8L367.5 282.0L367.6 281.9L377.0 274.5L378.2 273.6L388.0 269.3L390.4 268.6L398.0 267.1L400.0 266.8L406.0 264.1L413.0 259.6L417.0 257.7L422.7 254.8L426.0 252.9L432.0 250.7L439.1 248.7L439.4 248.6L445.0 246.1L449.5 244.7L450.5 244.0L455.0 241.5L459.4 238.0L467.8 235.4L478.2 231.5L488.6 228.4L499.0 226.3L504.2 215.9L512.1 211.2L522.5 208.1L534.5 206.0" stroke="#a020f0" stroke-width="2.4" stroke-dasharray="2 2.4"/>
<path d="M312.6 332.8L320.0 326.1L325.3 320.1L338.5 307.4L351.8 295.2L355.0 293.3L364.0 288.4L367.5 286.4L375.0 280.5L378.2 278.0L383.0 275.9L392.4 272.9L394.0 272.3L396.5 271.5L406.0 268.6L408.7 267.7L413.0 263.0L417.0 262.0L426.0 258.6L432.0 256.3L439.1 253.9L445.0 250.5L452.1 247.3L455.0 245.5L459.4 241.8L462.0 240.8L473.0 238.0L486.0 233.6L493.8 232.8L500.3 227.6L506.9 217.2L514.7 213.3L522.5 211.2L534.5 208.1" stroke="#008c1a" stroke-width="2.4" stroke-dasharray="9 8.5"/>
<path d="M314.1 332.6L320.0 330.4L325.3 326.9L338.5 319.5L350.0 312.8L351.8 311.8L359.9 307.8L365.0 305.7L367.6 304.8L378.2 300.9L390.4 298.7L400.0 297.4L413.0 294.2L415.0 293.6L426.0 289.9L439.1 286.8L440.0 286.6L449.5 283.9L459.4 280.5L460.0 280.4L478.2 276.3L492.5 275.3L501.6 270.6L510.8 265.4L522.5 263.6L534.5 262.0" stroke="#00bfff" stroke-width="2.3"/>
</g>
<rect x="309.00" y="187.50" width="225.50" height="145.50" fill="none" stroke="#555" stroke-width="0.9"/>
<path d="M309.00 333.00v-2.3M309.00 187.50v2.3M338.64 333.00v-2.3M338.64 187.50v2.3M367.08 333.00v-2.3M367.08 187.50v2.3M431.46 333.00v-2.3M431.46 187.50v2.3M458.94 333.00v-2.3M458.94 187.50v2.3M495.19 333.00v-2.3M495.19 187.50v2.3M522.59 333.00v-2.3M522.59 187.50v2.3M309.00 187.50h2.3M534.50 187.50h-2.3M309.00 200.90h2.3M534.50 200.90h-2.3M309.00 220.40h2.3M534.50 220.40h-2.3M309.00 234.90h2.3M534.50 234.90h-2.3M309.00 254.60h2.3M534.50 254.60h-2.3M309.00 279.20h2.3M534.50 279.20h-2.3M309.00 298.80h2.3M534.50 298.80h-2.3M309.00 312.80h2.3M534.50 312.80h-2.3" stroke="#555" stroke-width="0.9" fill="none"/>
<text x="308.80" y="347.40" font-size="10.3" font-weight="bold" text-anchor="middle" fill="#0a0a0a">0.80</text>
<text x="338.44" y="347.40" font-size="10.3" font-weight="bold" text-anchor="middle" fill="#0a0a0a">0.90</text>
<text x="366.88" y="347.40" font-size="10.3" font-weight="bold" text-anchor="middle" fill="#0a0a0a">0.95</text>
<text x="431.26" y="347.40" font-size="10.3" font-weight="bold" text-anchor="middle" fill="#0a0a0a">0.99</text>
<text x="458.74" y="347.40" font-size="10.3" font-weight="bold" text-anchor="middle" fill="#0a0a0a">0.995</text>
<text x="494.99" y="347.40" font-size="10.3" font-weight="bold" text-anchor="middle" fill="#0a0a0a">0.998</text>
<text x="522.39" y="347.40" font-size="10.3" font-weight="bold" text-anchor="middle" fill="#0a0a0a">0.999</text>
<text x="304.70" y="191.40" font-size="10.3" font-weight="bold" text-anchor="end" fill="#0a0a0a">500</text>
<text x="304.70" y="204.80" font-size="10.3" font-weight="bold" text-anchor="end" fill="#0a0a0a">400</text>
<text x="304.70" y="224.30" font-size="10.3" font-weight="bold" text-anchor="end" fill="#0a0a0a">200</text>
<text x="304.70" y="238.80" font-size="10.3" font-weight="bold" text-anchor="end" fill="#0a0a0a">150</text>
<text x="304.70" y="258.50" font-size="10.3" font-weight="bold" text-anchor="end" fill="#0a0a0a">100</text>
<text x="304.70" y="283.10" font-size="10.3" font-weight="bold" text-anchor="end" fill="#0a0a0a">60</text>
<text x="304.70" y="302.70" font-size="10.3" font-weight="bold" text-anchor="end" fill="#0a0a0a">40</text>
<text x="304.70" y="316.70" font-size="10.3" font-weight="bold" text-anchor="end" fill="#0a0a0a">30</text>
<text x="321.60" y="205.40" font-size="10.45" fill="#0a0a0a">(d) Station #10 - high</text>
</g>
<g>
<path d="M90.17 366.50V512.20M138.51 366.50V512.20M179.68 366.50V512.20M202.43 366.50V512.20M229.21 366.50V512.20M38.50 403.11H263.50M38.50 439.72H263.50M38.50 461.68H263.50M38.50 476.32H263.50M38.50 490.97H263.50M38.50 505.61H263.50" stroke="#e1e1e1" stroke-width="0.75" fill="none"/>
<clipPath id="c4"><rect x="38.50" y="365.00" width="226.50" height="148.70"/></clipPath>
<g clip-path="url(#c4)" fill="none" stroke-linejoin="round">
<path d="M38.5 511.0L40.5 511.0L42.5 511.0L44.5 511.0L46.5 511.0L48.5 510.9L50.6 510.9L52.6 510.9L54.6 510.9L56.6 510.9L58.6 510.9L60.6 510.9L62.6 510.9L64.6 510.9L66.6 510.8L68.6 510.8L70.6 510.8L72.7 510.8L74.7 510.7L76.7 510.7L78.7 510.6L80.7 510.6L82.7 510.5L84.7 510.5L86.7 510.4L88.7 510.3L90.7 510.2L92.7 510.1L94.8 510.0L96.8 509.9L98.8 509.8L100.8 509.7L102.8 509.5L104.8 509.4L106.8 509.2L108.8 509.0L110.8 508.9L112.8 508.7L114.8 508.4L116.8 508.2L118.9 508.0L120.9 507.7L122.9 507.4L124.9 507.2L126.9 506.8L128.9 506.5L130.9 506.2L132.9 505.8L134.9 505.4L136.9 504.9L138.9 504.5L141.0 504.0L143.0 503.5L145.0 502.9L147.0 502.4L149.0 501.7L151.0 501.1L153.0 500.4L155.0 499.7L157.0 498.9L159.0 498.2L161.0 497.3L163.1 496.5L165.1 495.6L167.1 494.7L169.1 493.8L171.1 492.9L173.1 491.9L175.1 491.0L177.1 490.0L179.1 489.0L181.1 488.0L183.1 487.0L185.2 486.0L187.2 484.9L189.2 483.7L191.2 482.5L193.2 481.2L195.2 479.7L197.2 478.2L199.2 476.6L201.2 474.9L203.2 473.1L205.2 471.3L207.3 469.4L209.3 467.4L211.3 465.4L213.3 463.4L215.3 461.3L217.3 459.2L219.3 457.0L221.3 454.8L223.3 452.6L225.3 450.3L227.3 448.1L229.3 445.7L231.4 443.3L233.4 440.9L235.4 438.4L237.4 435.8L239.4 433.2L241.4 430.6L243.4 427.9L245.4 425.3L247.4 422.6L249.4 419.8L251.4 417.1L253.5 414.1L255.5 411.1L257.5 407.7L259.5 404.1L261.5 400.0L263.5 395.6" stroke="#ff0000" stroke-width="1.8"/>
<path d="M38.5 511.7L40.5 511.6L42.5 511.5L44.5 511.4L46.5 511.3L48.5 511.3L50.6 511.2L52.6 511.2L54.6 511.2L56.6 511.1L58.6 511.1L60.6 511.1L62.6 511.1L64.6 511.1L66.6 511.1L68.6 511.1L70.6 511.1L72.7 511.1L74.7 511.1L76.7 511.1L78.7 511.1L80.7 511.1L82.7 511.1L84.7 511.1L86.7 511.1L88.7 511.1L90.7 511.1L92.7 511.1L94.8 511.1L96.8 511.1L98.8 511.1L100.8 511.1L102.8 511.1L104.8 511.1L106.8 511.1L108.8 511.1L110.8 511.0L112.8 511.0L114.8 511.0L116.8 510.9L118.9 510.9L120.9 510.8L122.9 510.7L124.9 510.7L126.9 510.6L128.9 510.5L130.9 510.4L132.9 510.3L134.9 510.2L136.9 510.0L138.9 509.9L141.0 509.7L143.0 509.6L145.0 509.4L147.0 509.2L149.0 509.0L151.0 508.8L153.0 508.6L155.0 508.3L157.0 508.1L159.0 507.8L161.0 507.5L163.1 507.2L165.1 506.9L167.1 506.6L169.1 506.2L171.1 505.8L173.1 505.4L175.1 505.0L177.1 504.6L179.1 504.2L181.1 503.7L183.1 503.2L185.2 502.7L187.2 502.2L189.2 501.6L191.2 501.1L193.2 500.5L195.2 499.9L197.2 499.2L199.2 498.6L201.2 497.9L203.2 497.2L205.2 496.4L207.3 495.6L209.3 494.8L211.3 493.9L213.3 492.9L215.3 492.0L217.3 490.9L219.3 489.8L221.3 488.7L223.3 487.4L225.3 486.2L227.3 484.8L229.3 483.4L231.4 481.9L233.4 480.3L235.4 478.7L237.4 477.0L239.4 475.2L241.4 473.3L243.4 471.4L245.4 469.5L247.4 467.5L249.4 465.4L251.4 463.3L253.5 461.2L255.5 459.0L257.5 456.8L259.5 454.5L261.5 452.2L263.5 449.9" stroke="#000000" stroke-width="1.8"/>
<path d="M38.5 510.8L40.5 510.8L42.5 510.7L44.5 510.7L46.5 510.6L48.5 510.6L50.6 510.6L52.6 510.6L54.6 510.5L56.6 510.5L58.6 510.5L60.6 510.5L62.6 510.5L64.6 510.5L66.6 510.5L68.6 510.5L70.6 510.4L72.7 510.4L74.7 510.4L76.7 510.4L78.7 510.4L80.7 510.3L82.7 510.3L84.7 510.3L86.7 510.2L88.7 510.1L90.7 510.1L92.7 510.0L94.8 509.9L96.8 509.8L98.8 509.7L100.8 509.6L102.8 509.4L104.8 509.3L106.8 509.1L108.8 508.9L110.8 508.7L112.8 508.5L114.8 508.3L116.8 508.1L118.9 507.8L120.9 507.5L122.9 507.2L124.9 506.9L126.9 506.5L128.9 506.2L130.9 505.8L132.9 505.3L134.9 504.9L136.9 504.4L138.9 503.9L141.0 503.4L143.0 502.9L145.0 502.3L147.0 501.7L149.0 501.1L151.0 500.4L153.0 499.8L155.0 499.1L157.0 498.3L159.0 497.6L161.0 496.8L163.1 496.0L165.1 495.1L167.1 494.3L169.1 493.4L171.1 492.4L173.1 491.5L175.1 490.5L177.1 489.5L179.1 488.5L181.1 487.4L183.1 486.3L185.2 485.2L187.2 484.0L189.2 482.8L191.2 481.5L193.2 480.2L195.2 478.8L197.2 477.3L199.2 475.8L201.2 474.1L203.2 472.4L205.2 470.6L207.3 468.7L209.3 466.8L211.3 464.7L213.3 462.6L215.3 460.5L217.3 458.2L219.3 455.9L221.3 453.5L223.3 451.0L225.3 448.3L227.3 445.6L229.3 442.7L231.4 439.9L233.4 437.1L235.4 434.5L237.4 432.0L239.4 429.6L241.4 427.3L243.4 425.1L245.4 422.7L247.4 420.3L249.4 417.8L251.4 415.0L253.5 412.0L255.5 408.7L257.5 405.1L259.5 401.1L261.5 396.7L263.5 391.7" stroke="#f07f2e" stroke-width="2.0" stroke-dasharray="9 2.2 3 2.8"/>
<path d="M38.5 511.0L40.5 511.0L42.5 511.0L44.5 511.0L46.5 511.0L48.5 511.0L50.6 511.0L52.6 511.0L54.6 511.0L56.6 511.0L58.6 511.0L60.6 511.0L62.6 511.0L64.6 511.0L66.6 511.0L68.6 511.0L70.6 510.9L72.7 510.9L74.7 510.9L76.7 510.8L78.7 510.8L80.7 510.7L82.7 510.7L84.7 510.6L86.7 510.5L88.7 510.5L90.7 510.4L92.7 510.3L94.8 510.2L96.8 510.1L98.8 510.0L100.8 509.8L102.8 509.7L104.8 509.6L106.8 509.4L108.8 509.3L110.8 509.1L112.8 508.9L114.8 508.7L116.8 508.5L118.9 508.3L120.9 508.1L122.9 507.8L124.9 507.5L126.9 507.3L128.9 507.0L130.9 506.6L132.9 506.3L134.9 505.9L136.9 505.5L138.9 505.0L141.0 504.5L143.0 504.0L145.0 503.5L147.0 502.9L149.0 502.3L151.0 501.6L153.0 500.9L155.0 500.2L157.0 499.4L159.0 498.6L161.0 497.7L163.1 496.8L165.1 495.9L167.1 495.0L169.1 494.1L171.1 493.1L173.1 492.1L175.1 491.1L177.1 490.2L179.1 489.2L181.1 488.2L183.1 487.2L185.2 486.2L187.2 485.1L189.2 484.0L191.2 482.8L193.2 481.4L195.2 479.9L197.2 478.3L199.2 476.4L201.2 474.4L203.2 472.2L205.2 469.8L207.3 467.2L209.3 464.6L211.3 462.0L213.3 459.4L215.3 456.8L217.3 454.2L219.3 451.5L221.3 448.9L223.3 446.2L225.3 443.5L227.3 440.7L229.3 437.9L231.4 435.1L233.4 432.3L235.4 429.4L237.4 426.4L239.4 423.5L241.4 420.4L243.4 417.4L245.4 414.3L247.4 411.2L249.4 408.2L251.4 405.1L253.5 402.0L255.5 398.7L257.5 395.1L259.5 390.8L261.5 385.6L263.5 379.3" stroke="#a020f0" stroke-width="2.4" stroke-dasharray="2 2.4"/>
<path d="M38.5 510.6L40.5 510.6L42.5 510.6L44.5 510.5L46.5 510.5L48.5 510.5L50.6 510.5L52.6 510.5L54.6 510.5L56.6 510.5L58.6 510.5L60.6 510.5L62.6 510.5L64.6 510.4L66.6 510.4L68.6 510.4L70.6 510.4L72.7 510.4L74.7 510.3L76.7 510.3L78.7 510.3L80.7 510.2L82.7 510.2L84.7 510.1L86.7 510.1L88.7 510.0L90.7 509.9L92.7 509.8L94.8 509.8L96.8 509.7L98.8 509.5L100.8 509.4L102.8 509.3L104.8 509.2L106.8 509.0L108.8 508.8L110.8 508.7L112.8 508.5L114.8 508.3L116.8 508.1L118.9 507.8L120.9 507.6L122.9 507.3L124.9 507.0L126.9 506.7L128.9 506.4L130.9 506.1L132.9 505.7L134.9 505.3L136.9 504.9L138.9 504.4L141.0 503.9L143.0 503.4L145.0 502.9L147.0 502.3L149.0 501.7L151.0 501.1L153.0 500.4L155.0 499.7L157.0 498.9L159.0 498.1L161.0 497.3L163.1 496.5L165.1 495.6L167.1 494.7L169.1 493.8L171.1 492.9L173.1 492.0L175.1 491.0L177.1 490.1L179.1 489.1L181.1 488.1L183.1 487.2L185.2 486.1L187.2 485.1L189.2 483.9L191.2 482.7L193.2 481.4L195.2 480.0L197.2 478.5L199.2 476.8L201.2 475.1L203.2 473.3L205.2 471.4L207.3 469.5L209.3 467.5L211.3 465.6L213.3 463.6L215.3 461.6L217.3 459.6L219.3 457.5L221.3 455.5L223.3 453.4L225.3 451.2L227.3 449.1L229.3 446.8L231.4 444.4L233.4 442.0L235.4 439.5L237.4 436.9L239.4 434.3L241.4 431.8L243.4 429.2L245.4 426.7L247.4 424.2L249.4 421.6L251.4 418.9L253.5 416.0L255.5 412.8L257.5 409.2L259.5 405.3L261.5 400.8L263.5 395.7" stroke="#008c1a" stroke-width="2.4" stroke-dasharray="9 8.5"/>
<path d="M38.5 509.8L40.5 509.7L42.5 509.6L44.5 509.6L46.5 509.5L48.5 509.5L50.6 509.4L52.6 509.4L54.6 509.4L56.6 509.3L58.6 509.3L60.6 509.3L62.6 509.2L64.6 509.2L66.6 509.2L68.6 509.2L70.6 509.1L72.7 509.1L74.7 509.1L76.7 509.1L78.7 509.0L80.7 509.0L82.7 508.9L84.7 508.9L86.7 508.9L88.7 508.8L90.7 508.7L92.7 508.7L94.8 508.6L96.8 508.5L98.8 508.4L100.8 508.3L102.8 508.2L104.8 508.1L106.8 508.0L108.8 507.8L110.8 507.7L112.8 507.5L114.8 507.3L116.8 507.2L118.9 507.0L120.9 506.7L122.9 506.5L124.9 506.3L126.9 506.0L128.9 505.7L130.9 505.4L132.9 505.1L134.9 504.8L136.9 504.5L138.9 504.1L141.0 503.7L143.0 503.3L145.0 502.9L147.0 502.5L149.0 502.0L151.0 501.5L153.0 501.0L155.0 500.5L157.0 499.9L159.0 499.4L161.0 498.8L163.1 498.1L165.1 497.5L167.1 496.8L169.1 496.1L171.1 495.3L173.1 494.5L175.1 493.7L177.1 492.8L179.1 491.9L181.1 491.0L183.1 490.0L185.2 489.0L187.2 488.0L189.2 486.9L191.2 485.7L193.2 484.6L195.2 483.3L197.2 482.0L199.2 480.7L201.2 479.3L203.2 477.9L205.2 476.3L207.3 474.7L209.3 473.0L211.3 471.3L213.3 469.4L215.3 467.5L217.3 465.4L219.3 463.2L221.3 460.9L223.3 458.5L225.3 456.0L227.3 453.5L229.3 450.9L231.4 448.4L233.4 446.0L235.4 443.6L237.4 441.3L239.4 439.0L241.4 436.8L243.4 434.6L245.4 432.5L247.4 430.4L249.4 428.1L251.4 425.5L253.5 422.6L255.5 419.2L257.5 415.2L259.5 410.5L261.5 405.1L263.5 398.8" stroke="#00bfff" stroke-width="2.3"/>
</g>
<rect x="38.50" y="366.50" width="225.00" height="145.70" fill="none" stroke="#555" stroke-width="0.9"/>
<path d="M38.50 512.20v-2.3M38.50 366.50v2.3M90.17 512.20v-2.3M90.17 366.50v2.3M138.51 512.20v-2.3M138.51 366.50v2.3M179.68 512.20v-2.3M179.68 366.50v2.3M202.43 512.20v-2.3M202.43 366.50v2.3M229.21 512.20v-2.3M229.21 366.50v2.3M263.50 512.20v-2.3M263.50 366.50v2.3M38.50 366.50h2.3M263.50 366.50h-2.3M38.50 403.11h2.3M263.50 403.11h-2.3M38.50 439.72h2.3M263.50 439.72h-2.3M38.50 461.68h2.3M263.50 461.68h-2.3M38.50 476.32h2.3M263.50 476.32h-2.3M38.50 490.97h2.3M263.50 490.97h-2.3M38.50 505.61h2.3M263.50 505.61h-2.3" stroke="#555" stroke-width="0.9" fill="none"/>
<text x="38.30" y="526.60" font-size="10.3" font-weight="bold" text-anchor="middle" fill="#0a0a0a">0.01</text>
<text x="89.97" y="526.60" font-size="10.3" font-weight="bold" text-anchor="middle" fill="#0a0a0a">0.10</text>
<text x="138.31" y="526.60" font-size="10.3" font-weight="bold" text-anchor="middle" fill="#0a0a0a">0.30</text>
<text x="179.48" y="526.60" font-size="10.3" font-weight="bold" text-anchor="middle" fill="#0a0a0a">0.50</text>
<text x="202.23" y="526.60" font-size="10.3" font-weight="bold" text-anchor="middle" fill="#0a0a0a">0.60</text>
<text x="229.01" y="526.60" font-size="10.3" font-weight="bold" text-anchor="middle" fill="#0a0a0a">0.70</text>
<text x="263.30" y="526.60" font-size="10.3" font-weight="bold" text-anchor="middle" fill="#0a0a0a">0.80</text>
<text x="34.20" y="370.40" font-size="10.3" font-weight="bold" text-anchor="end" fill="#0a0a0a">20</text>
<text x="34.20" y="407.01" font-size="10.3" font-weight="bold" text-anchor="end" fill="#0a0a0a">15</text>
<text x="34.20" y="443.62" font-size="10.3" font-weight="bold" text-anchor="end" fill="#0a0a0a">10</text>
<text x="34.20" y="465.58" font-size="10.3" font-weight="bold" text-anchor="end" fill="#0a0a0a">7</text>
<text x="34.20" y="480.22" font-size="10.3" font-weight="bold" text-anchor="end" fill="#0a0a0a">5</text>
<text x="34.20" y="494.87" font-size="10.3" font-weight="bold" text-anchor="end" fill="#0a0a0a">3</text>
<text x="34.20" y="509.51" font-size="10.3" font-weight="bold" text-anchor="end" fill="#0a0a0a">1</text>
<text x="49.50" y="384.80" font-size="10.45" fill="#0a0a0a">(e) Station #24 - low</text>
<text transform="translate(17.40 439.35) rotate(-90)" font-size="11.8" font-weight="bold" text-anchor="middle" fill="#0a0a0a">Quantile (mm)</text>
<text x="151.00" y="542.80" font-size="11.6" font-weight="bold" text-anchor="middle" fill="#0a0a0a">Non-exceedance probability</text>
</g>
<g>
<path d="M338.64 366.50V512.20M367.08 366.50V512.20M431.46 366.50V512.20M458.94 366.50V512.20M495.19 366.50V512.20M522.59 366.50V512.20M309.00 379.37H534.50M309.00 395.97H534.50M309.00 413.86H534.50M309.00 432.23H534.50M309.00 448.83H534.50M309.00 472.21H534.50M309.00 488.81H534.50" stroke="#e1e1e1" stroke-width="0.75" fill="none"/>
<clipPath id="c5"><rect x="309.00" y="365.00" width="227.00" height="148.70"/></clipPath>
<g clip-path="url(#c5)" fill="none" stroke-linejoin="round">
<path d="M318.2 512.2L325.3 504.8L330.0 500.3L331.4 498.9L338.5 489.7L340.0 488.7L346.0 483.6L351.8 478.6L357.0 473.6L359.9 470.9L360.0 470.8L367.5 464.0L367.6 463.9L376.2 454.2L377.0 453.9L384.3 450.8L388.0 448.1L390.4 446.5L397.0 442.3L398.5 441.1L404.0 436.1L406.7 434.2L412.0 429.9L413.0 429.3L417.0 427.7L426.0 422.2L432.0 419.7L439.0 416.8L439.1 416.8L448.0 415.0L452.1 413.6L455.0 412.6L459.4 411.8L467.8 404.0L475.6 400.6L483.4 399.6L491.2 394.9L504.2 393.6L513.4 392.8L522.5 385.8L534.5 380.5" stroke="#ff0000" stroke-width="1.8"/>
<path d="M339.6 512.5L345.7 506.9L349.0 504.2L351.8 502.3L358.0 497.7L359.9 495.9L365.0 492.4L367.6 490.6L376.2 484.1L380.0 481.0L382.3 479.2L390.4 474.8L398.5 470.7L406.7 466.2L413.0 462.1L415.0 461.1L426.0 455.5L439.1 448.8L452.1 444.2L455.0 443.4L459.4 442.1L475.6 438.9L488.6 436.8L495.9 435.4L504.2 430.2L514.7 428.3L522.5 427.5L534.5 427.5" stroke="#000000" stroke-width="1.8"/>
<path d="M316.2 512.2L325.3 502.7L330.0 497.8L338.5 488.9L351.8 478.9L355.0 476.2L359.9 472.4L366.0 469.1L367.6 468.1L377.0 462.3L378.2 461.4L383.0 458.1L388.0 454.7L390.4 453.3L397.0 449.1L398.5 448.2L406.0 445.2L406.7 444.9L413.0 440.5L417.0 438.3L426.0 433.2L432.0 431.3L439.1 429.2L448.0 427.4L452.1 426.6L455.0 426.0L459.4 424.7L470.0 422.2L475.6 421.5L483.4 415.7L495.9 412.6L512.1 411.8L522.5 410.5L534.5 407.9" stroke="#f07f2e" stroke-width="2.0" stroke-dasharray="9 2.2 3 2.8"/>
<path d="M312.1 512.2L317.2 507.1L322.0 502.2L325.3 498.8L333.0 491.8L338.5 486.9L349.0 477.5L351.8 475.0L358.0 469.0L359.9 467.3L367.5 462.4L367.6 462.3L377.0 455.0L378.2 454.1L388.0 448.2L390.4 447.0L399.0 442.2L402.6 440.3L406.0 438.1L413.0 434.6L417.0 433.0L426.0 428.2L432.0 426.6L439.0 424.4L439.1 424.4L448.0 421.5L452.1 420.6L455.0 420.1L459.4 419.0L470.0 416.6L475.6 415.7L483.4 410.5L495.9 407.4L512.1 406.6L522.5 405.3L534.5 402.7" stroke="#a020f0" stroke-width="2.4" stroke-dasharray="2 2.4"/>
<path d="M317.2 512.2L325.3 504.3L330.0 498.6L331.4 496.8L338.5 489.7L340.0 488.6L346.0 483.2L351.8 478.3L357.0 473.8L359.9 471.9L360.0 471.8L367.5 464.0L367.6 463.9L374.1 459.5L377.0 457.1L382.3 452.9L388.0 448.3L390.4 446.5L397.0 441.5L398.5 440.2L404.0 436.7L406.7 435.5L412.0 431.4L413.0 430.8L417.0 428.6L426.0 422.4L432.0 419.5L439.1 416.1L448.0 412.3L452.1 410.2L455.0 409.2L459.4 407.9L473.0 402.7L483.4 394.9L493.8 391.0L504.2 388.4L517.3 387.1L525.1 384.5L534.5 380.5" stroke="#008c1a" stroke-width="2.4" stroke-dasharray="9 8.5"/>
<path d="M317.2 512.2L325.3 504.1L327.0 502.4L338.5 488.9L349.0 477.7L351.8 475.0L354.0 472.0L357.9 466.1L360.5 463.7L367.5 457.0L367.6 456.9L377.0 448.7L378.2 447.5L388.0 438.7L390.4 437.1L396.5 430.4L397.0 429.9L400.0 426.9L406.0 423.3L406.7 422.8L413.0 416.3L417.0 414.0L426.0 408.1L432.0 404.7L439.1 401.2L439.4 401.1L448.0 398.0L452.1 396.6L455.0 395.5L459.4 393.9L475.6 388.6L483.4 380.7L495.9 376.2L512.1 374.7L522.5 370.9L534.5 367.5" stroke="#00bfff" stroke-width="2.3"/>
</g>
<rect x="309.00" y="366.50" width="225.50" height="145.70" fill="none" stroke="#555" stroke-width="0.9"/>
<path d="M309.00 512.20v-2.3M309.00 366.50v2.3M338.64 512.20v-2.3M338.64 366.50v2.3M367.08 512.20v-2.3M367.08 366.50v2.3M431.46 512.20v-2.3M431.46 366.50v2.3M458.94 512.20v-2.3M458.94 366.50v2.3M495.19 512.20v-2.3M495.19 366.50v2.3M522.59 512.20v-2.3M522.59 366.50v2.3M309.00 366.50h2.3M534.50 366.50h-2.3M309.00 379.37h2.3M534.50 379.37h-2.3M309.00 395.97h2.3M534.50 395.97h-2.3M309.00 413.86h2.3M534.50 413.86h-2.3M309.00 432.23h2.3M534.50 432.23h-2.3M309.00 448.83h2.3M534.50 448.83h-2.3M309.00 472.21h2.3M534.50 472.21h-2.3M309.00 488.81h2.3M534.50 488.81h-2.3M309.00 512.20h2.3M534.50 512.20h-2.3" stroke="#555" stroke-width="0.9" fill="none"/>
<text x="308.80" y="526.60" font-size="10.3" font-weight="bold" text-anchor="middle" fill="#0a0a0a">0.80</text>
<text x="338.44" y="526.60" font-size="10.3" font-weight="bold" text-anchor="middle" fill="#0a0a0a">0.90</text>
<text x="366.88" y="526.60" font-size="10.3" font-weight="bold" text-anchor="middle" fill="#0a0a0a">0.95</text>
<text x="431.26" y="526.60" font-size="10.3" font-weight="bold" text-anchor="middle" fill="#0a0a0a">0.99</text>
<text x="458.74" y="526.60" font-size="10.3" font-weight="bold" text-anchor="middle" fill="#0a0a0a">0.995</text>
<text x="494.99" y="526.60" font-size="10.3" font-weight="bold" text-anchor="middle" fill="#0a0a0a">0.998</text>
<text x="522.39" y="526.60" font-size="10.3" font-weight="bold" text-anchor="middle" fill="#0a0a0a">0.999</text>
<text x="304.70" y="370.40" font-size="10.3" font-weight="bold" text-anchor="end" fill="#0a0a0a">250</text>
<text x="304.70" y="383.27" font-size="10.3" font-weight="bold" text-anchor="end" fill="#0a0a0a">200</text>
<text x="304.70" y="399.87" font-size="10.3" font-weight="bold" text-anchor="end" fill="#0a0a0a">150</text>
<text x="304.70" y="417.76" font-size="10.3" font-weight="bold" text-anchor="end" fill="#0a0a0a">110</text>
<text x="304.70" y="436.13" font-size="10.3" font-weight="bold" text-anchor="end" fill="#0a0a0a">80</text>
<text x="304.70" y="452.73" font-size="10.3" font-weight="bold" text-anchor="end" fill="#0a0a0a">60</text>
<text x="304.70" y="476.11" font-size="10.3" font-weight="bold" text-anchor="end" fill="#0a0a0a">40</text>
<text x="304.70" y="492.71" font-size="10.3" font-weight="bold" text-anchor="end" fill="#0a0a0a">30</text>
<text x="304.70" y="516.10" font-size="10.3" font-weight="bold" text-anchor="end" fill="#0a0a0a">20</text>
<text x="321.60" y="385.50" font-size="10.45" fill="#0a0a0a">(f) Station #24 - high</text>
<text x="421.75" y="542.80" font-size="11.6" font-weight="bold" text-anchor="middle" fill="#0a0a0a">Non-exceedance probability</text>
</g>
<g>
<rect x="49.5" y="411.5" width="53.5" height="83.5" fill="#fff" stroke="#555" stroke-width="0.9"/>
<path d="M52 418.70H74.3" stroke="#ff0000" stroke-width="1.8" fill="none"/>
<text x="75.8" y="422.40" font-size="10.3" font-weight="bold" fill="#0a0a0a">OBS</text>
<path d="M52 432.52H74.3" stroke="#000000" stroke-width="1.8" fill="none"/>
<text x="75.8" y="436.22" font-size="10.3" font-weight="bold" fill="#0a0a0a">REF</text>
<path d="M52 446.34H74.3" stroke="#f07f2e" stroke-width="2.0" stroke-dasharray="9 2.2 3 2.8" fill="none"/>
<text x="75.8" y="450.04" font-size="10.3" font-weight="bold" fill="#0a0a0a">GEV</text>
<path d="M52 460.16H74.3" stroke="#a020f0" stroke-width="2.4" stroke-dasharray="2 2.4" fill="none"/>
<text x="75.8" y="463.86" font-size="10.3" font-weight="bold" fill="#0a0a0a">GAM</text>
<path d="M52 473.98H74.3" stroke="#008c1a" stroke-width="2.4" stroke-dasharray="9 8.5" fill="none"/>
<text x="75.8" y="477.68" font-size="10.3" font-weight="bold" fill="#0a0a0a">KAP</text>
<path d="M52 487.80H74.3" stroke="#00bfff" stroke-width="2.3" fill="none"/>
<text x="75.8" y="491.50" font-size="10.3" font-weight="bold" fill="#0a0a0a">BUR</text>
</g>
</svg></body></html>
